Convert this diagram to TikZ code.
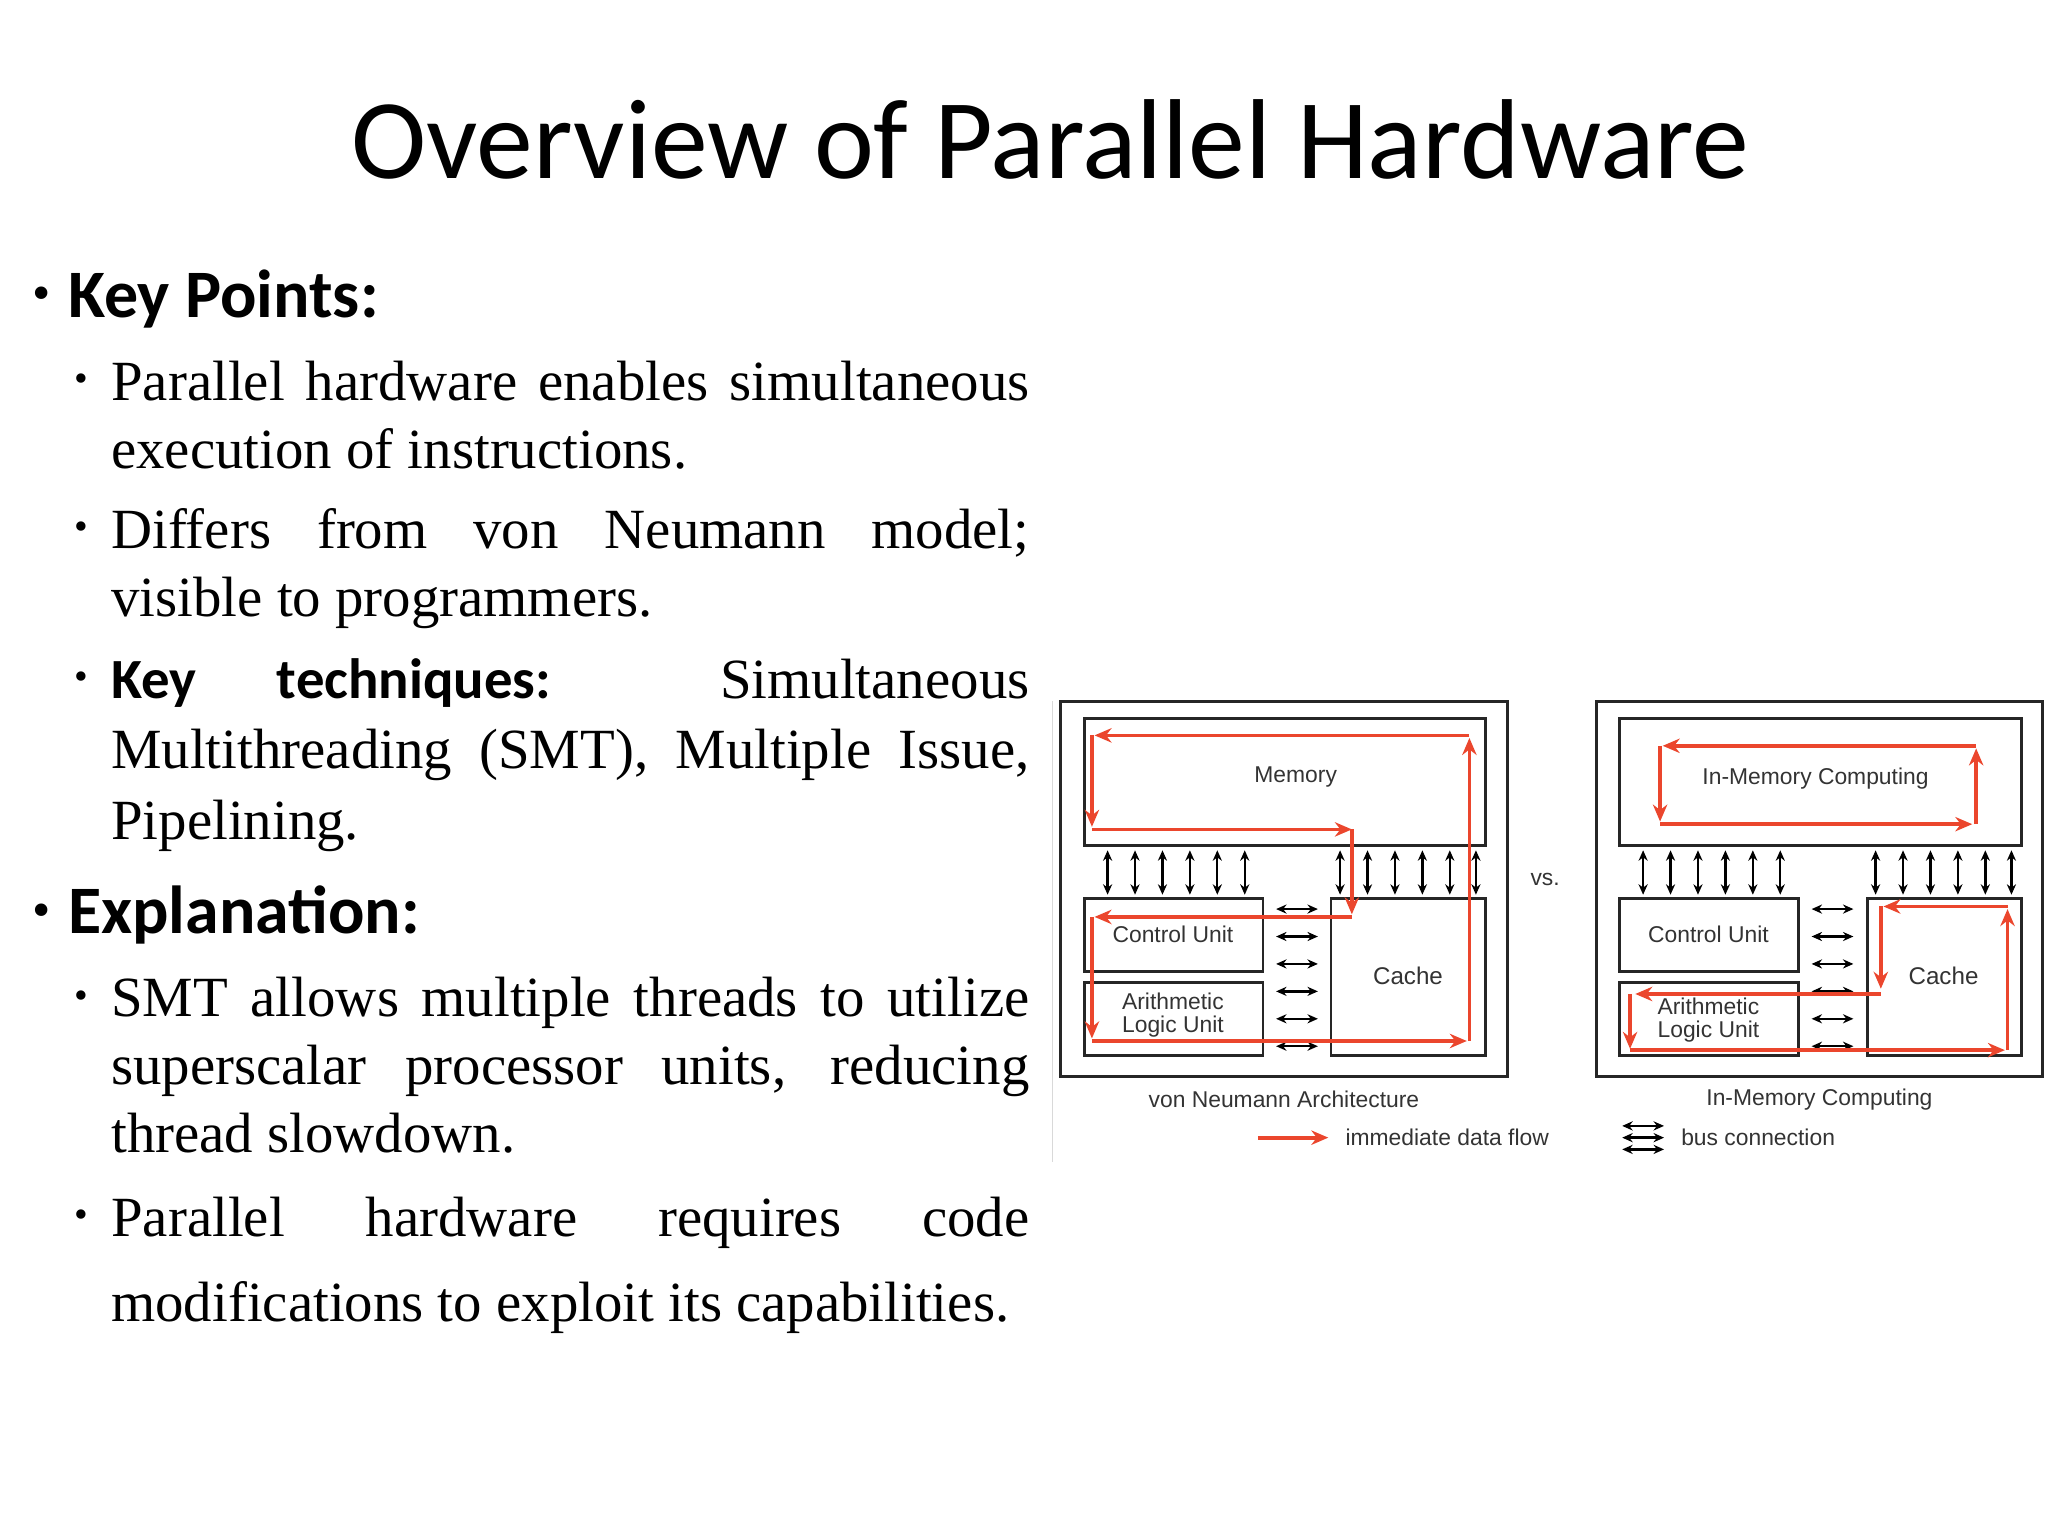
\documentclass[tikz,border=0pt]{standalone}
\usepackage{fontspec}
\setmainfont{Liberation Serif}
\newfontfamily\carlfont{Carlito}
\newfontfamily\ars{Liberation Sans}
\usetikzlibrary{arrows.meta}
\tikzset{
 box/.style={draw=black!85,line width=2.2},
 flow/.style={draw={rgb,255:red,235;green,70;blue,45},line width=2.6,-{Stealth[length=13,width=11]}},
 vbus/.style={draw=black,line width=1.8,{Stealth[length=8,width=7]}-{Stealth[length=8,width=7]}},
 lab/.style={font=\ars\fontsize{17.5}{18}\selectfont,text=black!80,align=center,inner sep=0},
 para/.style={anchor=north west,inner sep=0,text width=703,align=justify,font=\fontsize{43.5}{52}\selectfont},
 bul/.style={anchor=base,inner sep=0,font=\fontsize{30}{30}\selectfont},
}
\begin{document}
\begin{tikzpicture}[x=1pt,y=-1pt]
\useasboundingbox (0,0) rectangle (1568,1176);
\node[anchor=base,inner sep=0,font=\carlfont\fontsize{87}{90}\selectfont] (title) at (804,137) {Overview of Parallel Hardware};
% headings
\node[bul,font=\fontsize{40}{40}\selectfont] (b1) at (32,238) {•};
\node[anchor=base west,inner sep=0,font=\carlfont\bfseries\fontsize{52}{54}\selectfont] (h1) at (52,243) {Key Points:};
\node[bul,font=\fontsize{40}{40}\selectfont] (b2) at (32,710) {•};
\node[anchor=base west,inner sep=0,font=\carlfont\bfseries\fontsize{52}{54}\selectfont] (h2) at (52,715) {Explanation:};
% sub bullets
\foreach \y/\n in {300/s1,413/s2,528/s3,772/s4,940/s5}{\node[bul] (\n) at (62,\y) {•};}
\node[para] (p1) at (85,276) {Parallel hardware enables simultaneous\linebreak execution of instructions.};
\node[para] (p2) at (85,389) {Differs from von Neumann model;\linebreak visible to programmers.};
\node[para,font=\fontsize{43.5}{54}\selectfont] (p3) at (85,504) {{\carlfont\bfseries Key techniques:} Simultaneous\linebreak Multithreading (SMT), Multiple Issue,\linebreak Pipelining.};
\node[para] (p4) at (85,748) {SMT allows multiple threads to utilize\linebreak superscalar processor units, reducing\linebreak thread slowdown.};
\node[para,font=\fontsize{43.5}{65}\selectfont] (p5) at (85,916) {Parallel hardware requires code\linebreak modifications to exploit its capabilities.};
% image edge
\draw[black!15,line width=0.8] (806,537) -- (806,890);
% left diagram
\draw[box] (812,537) rectangle (1154,824);
\draw[box] (830,550) rectangle (1137,647);
\draw[box] (830,688) rectangle (967,744);
\draw[box] (830,752) rectangle (967,808);
\draw[box] (1019,688) rectangle (1137,808);
\node[lab] (mem) at (992,595) {Memory};
\node[lab] (cu1) at (898,715) {Control Unit};
\node[lab] (alu1) at (898,777) {Arithmetic\\Logic Unit};
\node[lab,font=\ars\fontsize{18.5}{19}\selectfont] (c1) at (1078,747) {Cache};
\node[lab] (t1) at (983,842) {von Neumann Architecture};
% right diagram
\draw[box] (1222,537) rectangle (1564,824);
\draw[box] (1240,550) rectangle (1548,647);
\draw[box] (1240,688) rectangle (1377,744);
\draw[box] (1240,752) rectangle (1377,808);
\draw[box] (1430,688) rectangle (1548,808);
\node[lab] (imc) at (1390,596) {In-Memory Computing};
\node[lab] (cu2) at (1308,715) {Control Unit};
\node[lab] (alu2) at (1308,781) {Arithmetic\\Logic Unit};
\node[lab,font=\ars\fontsize{18.5}{19}\selectfont] (c2) at (1488,747) {Cache};
\node[lab] (t2) at (1393,842) {In-Memory Computing};
\node[lab] (vs) at (1183,673) {vs.};
% bus arrows
\foreach \o in {0,410}{
 \foreach \x in {848,869,890,911,932,953,1026,1047,1068,1089,1110,1130}{\draw[vbus] (\x+\o,651) -- (\x+\o,685);}
 \foreach \y in {696,717,738,759,780,801}{\draw[vbus] (977+\o,\y) -- (1009+\o,\y);}
}
% left flows
\draw[flow] (1125,797) -- (1125,565);
\draw[flow] (1125,563) -- (838,563);
\draw[flow] (836,563) -- (836,633);
\draw[flow] (836,635) -- (1035,635);
\draw[flow] (1035,635) -- (1035,700);
\draw[flow] (1035,702) -- (838,702);
\draw[flow] (836,702) -- (836,795);
\draw[flow] (836,797) -- (1123,797);
% right flows
\draw[flow] (1513,571) -- (1273,571);
\draw[flow] (1271,571) -- (1271,629);
\draw[flow] (1271,631) -- (1510,631);
\draw[flow] (1513,631) -- (1513,573);
\draw[flow] (1537,694) -- (1442,694);
\draw[flow] (1440,694) -- (1440,757);
\draw[flow] (1440,761) -- (1252,761);
\draw[flow] (1248,761) -- (1248,803);
\draw[flow] (1248,804) -- (1535,804);
\draw[flow] (1537,804) -- (1537,696);
% legend
\draw[flow,line width=3] (963,871) -- (1017,871);
\node[lab,anchor=west] (l1) at (1030,871) {immediate data flow};
\foreach \y in {862,871,880}{\draw[vbus] (1242,\y) -- (1274,\y);}
\node[lab,anchor=west] (l2) at (1287,871) {bus connection};
\end{tikzpicture}
\end{document}
